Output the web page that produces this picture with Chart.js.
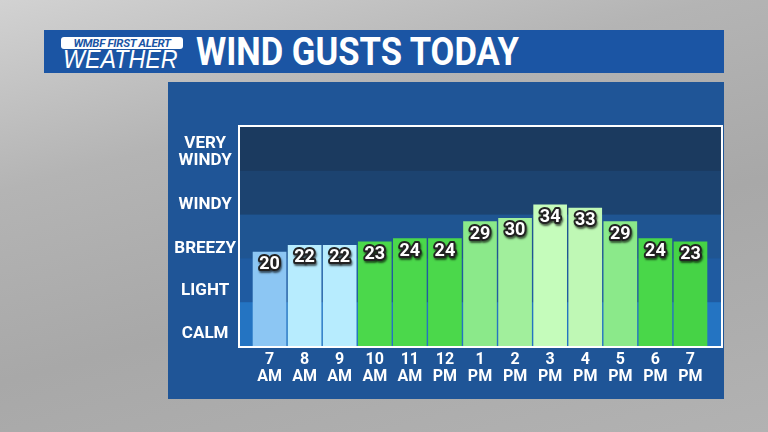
<!DOCTYPE html>
<html>
<head>
<meta charset="utf-8">
<script src="https://cdn.jsdelivr.net/npm/chart.js@4"></script>
<style>
  html, body { margin: 0; padding: 0; }
  body {
    width: 768px; height: 432px; position: relative; overflow: hidden;
    background: linear-gradient(165deg, #d2d2d2 0%, #b4b4b4 30%, #a8a8a8 60%, #b2b2b2 100%);
    font-family: Roboto, sans-serif;
  }
  #titleBar {
    position: absolute; left: 44px; top: 30px; width: 680px; height: 43px;
    background: #1b55a4;
  }
  #logoTop {
    position: absolute; left: 61px; top: 37px; width: 122px; height: 12px;
    background: #fff; border-radius: 3px; white-space: nowrap;
    color: #1b55a4; font: italic bold 11.5px/12px Roboto, sans-serif;
    text-align: center; letter-spacing: -0.3px;
  }
  #logoBottom {
    position: absolute; left: 63px; top: 47px; color: #fff; white-space: nowrap;
    font: italic 25px/25px 'Liberation Sans', sans-serif;
    transform: scaleX(0.93); transform-origin: left top;
  }
  #title {
    position: absolute; left: 196px; top: 33px; color: #fff; white-space: nowrap;
    font: bold 38px/38px Roboto, sans-serif;
    transform: scaleX(0.91); transform-origin: left top;
  }
  #panel {
    position: absolute; left: 168px; top: 82px; width: 556px; height: 317px;
    background: #1f5597;
  }
  #chart { position: absolute; left: 0; top: 0; }
</style>
</head>
<body>
<div id="titleBar"></div>
<div id="logoTop">WMBF FIRST ALERT</div>
<div id="logoBottom">WEATHER</div>
<div id="title">WIND GUSTS TODAY</div>
<div id="panel"></div>
<canvas id="chart" width="768" height="432"></canvas>

<script>
// DATA
const hours = [["7", "AM"], ["8", "AM"], ["9", "AM"], ["10", "AM"], ["11", "AM"], ["12", "PM"],
  ["1", "PM"], ["2", "PM"], ["3", "PM"], ["4", "PM"], ["5", "PM"], ["6", "PM"], ["7", "PM"]];
const gusts = [20, 22, 22, 23, 24, 24, 29, 30, 34, 33, 29, 24, 23];

// wind categories on the y-axis (top to bottom)
const windLabels = [["VERY", "WINDY"], "WINDY", "BREEZY", "LIGHT", "CALM"];
const windTickValues = [49.5, 34, 21, 8.5, -4.5];

// axis range (bars grow from the bottom of the plot)
const Y_MIN = -8;
const Y_MAX = 57;

// STYLES
const FONT = "Roboto, sans-serif";
const barColors = ["#8cc6f3", "#b7ecfe", "#b7ecfe", "#4bd84b", "#4bd84b", "#4bd84b",
  "#8be98a", "#a1ef9c", "#c5fcbb", "#bff8b5", "#8be98a", "#49d749", "#46d346"];
const bandColors = ["#1b3a5f", "#1c4370", "#1f5592", "#1f5ba1", "#2474c2"];

// background bands + white frame around the plot
const bandsPlugin = {
  id: "bands",
  beforeDatasetsDraw(chart) {
    const { ctx, chartArea } = chart;
    const left = chartArea.left - 12;
    const right = chartArea.right + 13;
    const h = (chartArea.bottom - chartArea.top) / bandColors.length;

    ctx.save();
    bandColors.forEach((c, i) => {
      ctx.fillStyle = c;
      ctx.fillRect(left, chartArea.top + i * h, right - left, h + 0.5);
    });
    ctx.strokeStyle = "#ffffff";
    ctx.lineWidth = 2;
    ctx.strokeRect(left - 1, chartArea.top - 1, right - left + 2, chartArea.bottom - chartArea.top + 2);
    ctx.restore();
  }
};

// outlined value labels at the top of each bar
const valueLabelsPlugin = {
  id: "valueLabels",
  afterDatasetsDraw(chart) {
    const { ctx } = chart;
    const meta = chart.getDatasetMeta(0);

    ctx.save();
    ctx.font = "bold 18px " + FONT;
    ctx.textAlign = "center";
    ctx.textBaseline = "middle";
    ctx.lineJoin = "round";

    meta.data.forEach((bar, i) => {
      const text = String(gusts[i]);
      const y = bar.y + 13;
      ctx.shadowColor = "rgba(0,0,0,0.6)";
      ctx.shadowOffsetX = 1;
      ctx.shadowOffsetY = 2;
      ctx.shadowBlur = 2;
      ctx.strokeStyle = "#222";
      ctx.lineWidth = 4;
      ctx.strokeText(text, bar.x, y);
      ctx.shadowColor = "transparent";
      ctx.fillStyle = "#ffffff";
      ctx.fillText(text, bar.x, y);
    });
    ctx.restore();
  }
};

const ctx = document.getElementById("chart").getContext("2d");

new Chart(ctx, {
  type: "bar",
  data: {
    labels: hours,
    datasets: [{
      data: gusts,
      base: Y_MIN,
      backgroundColor: barColors,
      borderWidth: 0,
      barPercentage: 0.96,
      categoryPercentage: 1
    }]
  },
  options: {
    responsive: false,
    animation: false,
    devicePixelRatio: 1,
    layout: {
      padding: { left: 158, right: 60, top: 127, bottom: 36 }
    },
    plugins: {
      legend: { display: false },
      tooltip: { enabled: false }
    },
    scales: {
      x: {
        grid: { display: false, drawTicks: false },
        border: { display: false },
        ticks: {
          color: "#ffffff",
          padding: 6,
          maxRotation: 0,
          autoSkip: false,
          font: { family: FONT, size: 16, weight: "bold", lineHeight: 1.05 }
        },
        afterFit(scale) { scale.height = 50; }
      },
      y: {
        min: Y_MIN,
        max: Y_MAX,
        grid: { display: false, drawTicks: false },
        border: { display: false },
        afterBuildTicks(scale) {
          scale.ticks = windTickValues.map(v => ({ value: v }));
        },
        afterFit(scale) { scale.width = 94; },
        ticks: {
          color: "#ffffff",
          padding: 16,
          crossAlign: "center",
          font: { family: FONT, size: 17, weight: "bold", lineHeight: 1.05 },
          callback(value) {
            const i = windTickValues.indexOf(value);
            return i >= 0 ? windLabels[i] : "";
          }
        }
      }
    }
  },
  plugins: [bandsPlugin, valueLabelsPlugin]
});
</script>
</body>
</html>
